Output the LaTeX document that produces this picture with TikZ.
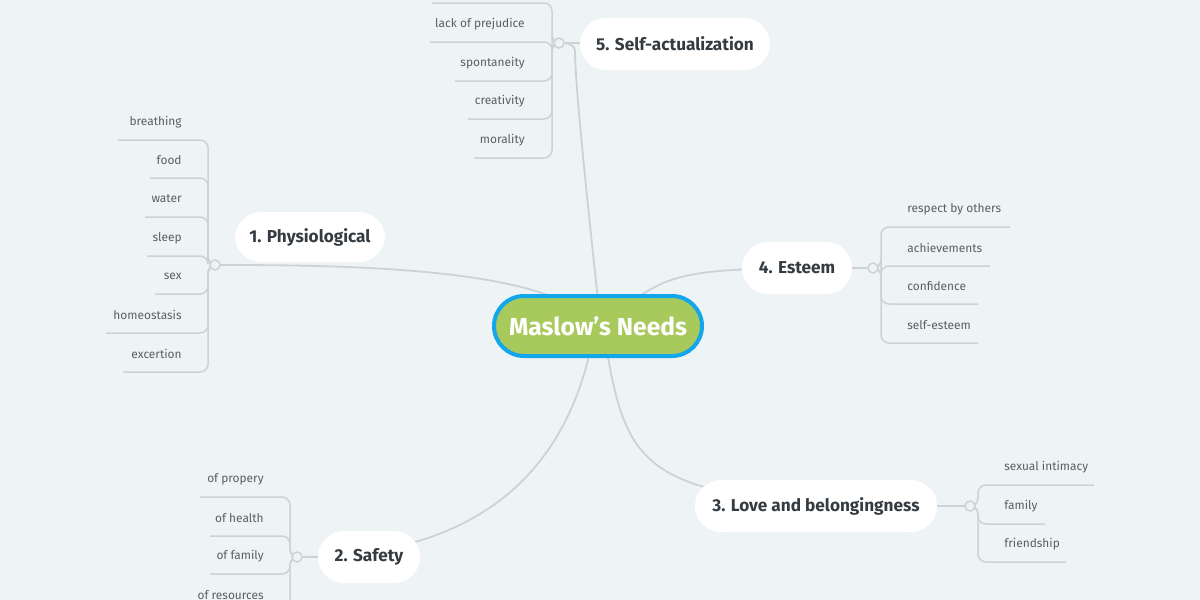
\documentclass[tikz,border=0pt]{standalone}
\usepackage{fontspec}
\setmainfont{Fira Sans}
\definecolor{bg}{HTML}{EEF3F6}
\definecolor{ln}{HTML}{CDD2D6}
\definecolor{leaftxt}{HTML}{5A5F63}
\definecolor{headtxt}{HTML}{343B41}
\definecolor{cfill}{HTML}{A8CA5C}
\definecolor{cborder}{HTML}{12A7EC}
\begin{document}
\begin{tikzpicture}[x=0.5pt,y=-0.5pt,
  conn/.style={draw=ln,line width=0.75pt,rounded corners=4pt},
  main/.style={draw=ln,line width=0.9pt},
  leaf/.style={font=\fontsize{5.95}{7}\selectfont,text=leaftxt,inner sep=0pt},
  head/.style={fill=white,rounded corners=13pt,font=\fontsize{8.6}{10}\selectfont\bfseries,text=headtxt,inner sep=0pt},
  junc/.style={circle,draw=ln,fill=bg,line width=0.75pt,minimum size=5pt,inner sep=0pt}]
\fill[bg] (0,0) rectangle (1200,600);
\useasboundingbox (0,0) rectangle (1200,600);
\coordinate (sj) at (559,43);
\coordinate (pj) at (215,265);
\coordinate (ej) at (873,268);
\coordinate (lj) at (970,506);
\coordinate (aj) at (297,557);
\coordinate (c1) at (598,300);
\coordinate (c2) at (550,296);
\coordinate (c3) at (640,296);
\coordinate (c4) at (607,352);
\coordinate (c5) at (590,352);
\draw[main] (c1) .. controls (585,180) and (575,80) .. (575,52) .. controls (575,44) and (568,43) .. (sj);
\draw[main] (sj) -- (585,43);
\draw[main] (c2) .. controls (470,265) and (300,265) .. (pj);
\draw[main] (c3) .. controls (680,268) and (720,268) .. (ej);
\draw[main] (c4) .. controls (630,480) and (650,506) .. (lj);
\draw[main] (c5) .. controls (560,480) and (470,557) .. (aj);
\draw[conn] (sj) -- (552,43) -- (552,3) -- (432,3);
\foreach \t/\y/\xs [count=\i] in {lack of prejudice/24/430,spontaneity/63/455,creativity/101/468,morality/140/474}{
  \node[leaf,anchor=east] (s\i) at (525,\y) {\t};
  \draw[conn] (sj) -- (552,43) -- (552,\y+18) -- (\xs,\y+18);
}
\foreach \t/\y/\xs [count=\i] in {breathing/122/118,food/160/150,water/199/145,sleep/238/147,sex/276/155,homeostasis/315/106,excertion/354/123}{
  \node[leaf,anchor=east] (p\i) at (182,\y) {\t};
  \draw[conn] (pj) -- (208,265) -- (208,\y+18) -- (\xs,\y+18);
}
\foreach \t/\y/\xe [count=\i] in {respect by others/209/1010,achievements/248/990,confidence/286/978,self-esteem/325/978}{
  \node[leaf,anchor=west] (e\i) at (907,\y) {\t};
  \draw[conn] (ej) -- (881,268) -- (881,\y+18) -- (\xe,\y+18);
}
\foreach \t/\y/\xe [count=\i] in {sexual intimacy/467/1094,family/506/1045,friendship/544/1066}{
  \node[leaf,anchor=west] (l\i) at (1004,\y) {\t};
  \draw[conn] (lj) -- (978,506) -- (978,\y+18) -- (\xe,\y+18);
}
\foreach \t/\y/\xs [count=\i] in {of propery/479/200,of health/518/210,of family/556/210,of resources/595/190}{
  \node[leaf,anchor=east] (a\i) at (264,\y) {\t};
  \draw[conn] (aj) -- (290,557) -- (290,\y+18) -- (\xs,\y+18);
}
\node[head,minimum width=95pt,minimum height=26pt] (self) at (675,44) {5. Self-actualization};
\node[head,minimum width=75pt,minimum height=25pt] (phys) at (310,237) {1. Physiological};
\node[head,minimum width=55pt,minimum height=26pt] (est) at (797,268) {4. Esteem};
\node[head,minimum width=121pt,minimum height=26pt] (love) at (816,506) {3. Love and belongingness};
\node[head,minimum width=51pt,minimum height=26pt] (saf) at (369,557) {2. Safety};
\draw[main] (est) -- (ej);
\draw[main] (love) -- (lj);
\draw[main] (saf) -- (aj);
\foreach \j in {sj,pj,ej,lj,aj}{\node[junc] at (\j) {};}
\node[fill=cfill,draw=cborder,line width=2pt,rounded corners=15pt,minimum width=104pt,minimum height=30pt,font=\fontsize{12.3}{14}\selectfont\bfseries,text=white] (ctr) at (598,326) {Maslow\char"0027 s Needs};
\end{tikzpicture}
\end{document}
